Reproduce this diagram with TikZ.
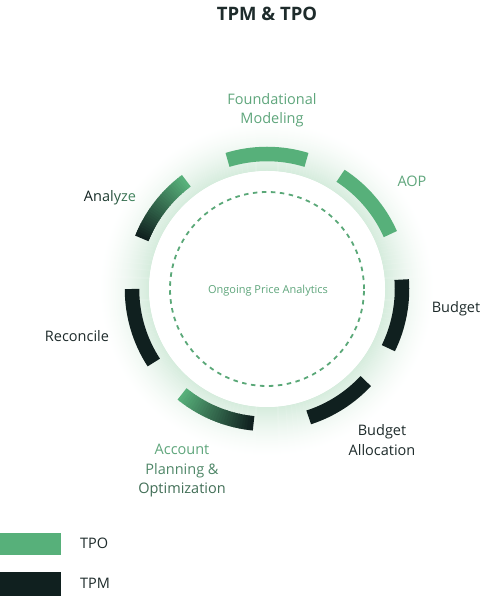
\documentclass[tikz,border=0pt]{standalone}
\usepackage{fontspec}
\setmainfont{Open Sans}
\definecolor{segGreen}{HTML}{57B07A}
\definecolor{segDark}{HTML}{10201F}
\definecolor{txtGreen}{HTML}{5FA67C}
\definecolor{txtDark}{HTML}{1E2B2B}
\definecolor{dashGreen}{HTML}{5AA878}
\definecolor{glowGreen}{HTML}{D6ECDD}
\begin{document}
\begin{tikzpicture}[x=1pt,y=1pt,
  lbl/.style={font=\fontsize{14.5}{19.5}\selectfont, align=center, inner sep=0pt},
  seg/.style={line width=14.5pt},
]
\useasboundingbox (0,0) rectangle (500,596);
\fill[white] (0,0) rectangle (500,596);
\coordinate (c) at (267,307);
% glow
\foreach \i in {0,...,50}{
  \pgfmathsetmacro{\pct}{100*(1-\i/50)^1.5}
  \draw[line width=1.3pt, draw=glowGreen!\pct!white] (c) circle[radius=118.5+\i];
}
\fill[white] (c) circle[radius=118];
% solid segments
\draw[seg, segGreen] ([shift={(73:135)}]c) arc[start angle=73, end angle=107, radius=135];
\draw[seg, segGreen] ([shift={(24:135)}]c) arc[start angle=24, end angle=57, radius=135];
\draw[seg, segDark] ([shift={(-26:135)}]c) arc[start angle=-26, end angle=4, radius=135];
\draw[seg, segDark] ([shift={(-72:135)}]c) arc[start angle=-72, end angle=-43, radius=135];
\draw[seg, segDark] ([shift={(180:135)}]c) arc[start angle=180, end angle=213, radius=135];
% gradient segments
\foreach \k in {0,...,29}{
  \pgfmathsetmacro{\aa}{158-\k*31/30}
  \pgfmathsetmacro{\ab}{158-(\k+1)*31/30-0.3}
  \pgfmathsetmacro{\pc}{100*\k/29}
  \draw[seg, draw=segGreen!\pc!segDark] ([shift={(\aa:135)}]c) arc[start angle=\aa, end angle=\ab, radius=135];
  \pgfmathsetmacro{\ba}{-129+\k*33/30}
  \pgfmathsetmacro{\bb}{-129+(\k+1)*33/30+0.3}
  \pgfmathsetmacro{\pd}{100-100*\k/29}
  \draw[seg, draw=segGreen!\pd!segDark] ([shift={(\ba:135)}]c) arc[start angle=\ba, end angle=\bb, radius=135];
}
% dashed inner circle
\draw[dashGreen, line width=1.8pt, dash pattern=on 4.5pt off 4.5pt] (c) circle[radius=97];
\node[font=\fontsize{11}{13}\selectfont, text=txtGreen, inner sep=0pt] (opa) at (268,305) {Ongoing Price Analytics};
% labels
\node[lbl, text=txtGreen] (fm) at (272,486) {Foundational\\Modeling};
\node[lbl, text=txtGreen] (aop) at (412,415) {AOP};
\node[lbl] (an) at (110,398) {\textcolor{segDark}{A}\textcolor{segGreen!10!segDark}{n}\textcolor{segGreen!20!segDark}{a}\textcolor{segGreen!30!segDark}{l}\textcolor{segGreen!42!segDark}{y}\textcolor{segGreen!55!segDark}{z}\textcolor{segGreen!70!segDark}{e}};
\node[lbl, text=txtDark] (bu) at (456,287) {Budget};
\node[lbl, text=txtDark] (re) at (77,260) {Reconcile};
\node[lbl, text=txtDark] (ba) at (382,156) {Budget\\Allocation};
\node[lbl] (apo) at (182,125) {\textcolor{txtGreen}{Account}\\\textcolor{txtGreen!75!txtDark}{Planning \&}\\\textcolor{txtGreen!55!txtDark}{Optimization}};
% title
\node[font=\bfseries\fontsize{18.5}{22}\selectfont, text=txtDark, inner sep=0pt] (title) at (267,582) {TPM \& TPO};
% legend
\fill[segGreen] (0,41) rectangle (61,63);
\fill[segDark] (0,0) rectangle (61,24);
\node[lbl, anchor=west, text=txtDark] (lo) at (80,53) {TPO};
\node[lbl, anchor=west, text=txtDark] (lm) at (80,13) {TPM};
\end{tikzpicture}
\end{document}
